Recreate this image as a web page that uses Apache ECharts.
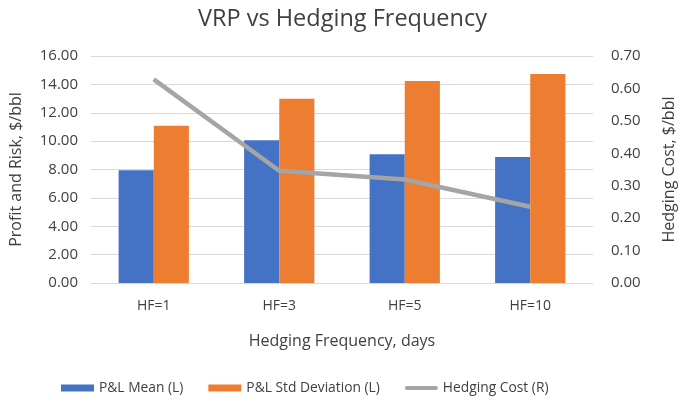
<!DOCTYPE html>
<html>
<head>
<meta charset="utf-8">
<script src="https://cdn.jsdelivr.net/npm/echarts@6/dist/echarts.min.js"></script>
<style>html,body{margin:0;padding:0;background:#fff}#c{width:685px;height:405px}</style>
</head>
<body>
<div id="c"></div>
<script>
const categories = ['HF=1', 'HF=3', 'HF=5', 'HF=10'];
const pnlMean = [7.95, 10.07, 9.08, 8.88];
const pnlStd = [11.08, 12.99, 14.23, 14.73];
const hedgingCost = [0.628, 0.346, 0.319, 0.235];
const leftTicks = { min: 0, max: 16, interval: 2 };
const rightTicks = { min: 0, max: 0.7, interval: 0.1 };

const font = '"Open Sans", "Noto Sans", sans-serif';
const chart = echarts.init(document.getElementById('c'));
chart.setOption({
  animation: false,
  textStyle: { fontFamily: font },
  title: {
    text: 'VRP vs Hedging Frequency',
    left: 'center', top: 2,
    textStyle: { fontFamily: font, fontSize: 23.5, fontWeight: 'normal', color: '#404040' }
  },
  grid: { left: 90, right: 85, top: 56, bottom: 122 },
  legend: {
    bottom: 5, left: 56,
    itemGap: 25, itemWidth: 33, itemHeight: 7,
    textStyle: { fontFamily: font, fontSize: 13.8, color: '#404040' },
    data: [
      { name: 'P&L Mean (L)', icon: 'rect' },
      { name: 'P&L Std Deviation (L)', icon: 'rect' },
      { name: 'Hedging Cost (R)', icon: 'path://M2,0 H31 A2,2 0 0 1 31,4 H2 A2,2 0 0 1 2,0 Z', itemStyle: { color: '#A5A5A5' } }
    ]
  },
  xAxis: {
    type: 'category', data: categories,
    name: 'Hedging Frequency, days', nameLocation: 'middle', nameGap: 50,
    nameTextStyle: { fontFamily: font, fontSize: 16, color: '#404040' },
    axisLine: { lineStyle: { color: '#D9D9D9' } },
    axisTick: { show: false },
    axisLabel: { fontFamily: font, fontSize: 14, color: '#404040', margin: 16 }
  },
  yAxis: [
    {
      type: 'value', min: leftTicks.min, max: leftTicks.max, interval: leftTicks.interval,
      name: 'Profit and Risk, $/bbl', nameLocation: 'middle', nameGap: 67, nameRotate: 90,
      nameTextStyle: { fontFamily: font, fontSize: 16, color: '#404040' },
      axisLine: { show: false }, axisTick: { show: false },
      axisLabel: { fontFamily: font, fontSize: 15, color: '#404040', margin: 13, formatter: v => v.toFixed(2) },
      splitLine: { lineStyle: { color: '#D9D9D9' } }
    },
    {
      type: 'value', min: rightTicks.min, max: rightTicks.max, interval: rightTicks.interval,
      name: 'Hedging Cost, $/bbl', nameLocation: 'middle', nameGap: 68, nameRotate: 90,
      nameTextStyle: { fontFamily: font, fontSize: 16, color: '#404040' },
      axisLine: { show: false }, axisTick: { show: false },
      axisLabel: { fontFamily: font, fontSize: 15, color: '#404040', margin: 18, formatter: v => v.toFixed(2) },
      splitLine: { show: false }
    }
  ],
  series: [
    {
      name: 'P&L Mean (L)', type: 'bar', data: pnlMean,
      barGap: '0%', barCategoryGap: '44%',
      itemStyle: { color: '#4472C4' }
    },
    {
      name: 'P&L Std Deviation (L)', type: 'bar', data: pnlStd,
      barGap: '0%', barCategoryGap: '44%',
      itemStyle: { color: '#ED7D31' }
    },
    {
      name: 'Hedging Cost (R)', type: 'line', yAxisIndex: 1, data: hedgingCost,
      symbol: 'none', lineStyle: { color: '#A5A5A5', width: 4.5 }, itemStyle: { color: '#A5A5A5' }
    }
  ]
});
</script>
</body>
</html>
